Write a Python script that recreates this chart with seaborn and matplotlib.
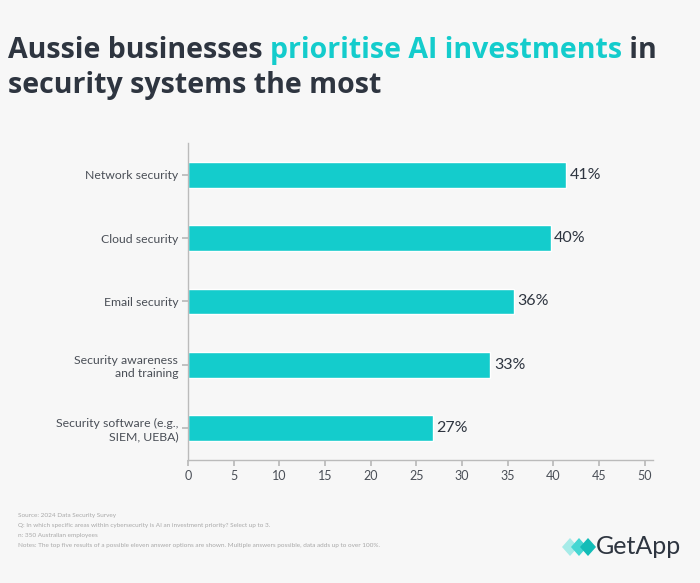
import matplotlib
matplotlib.use("Agg")
import matplotlib.pyplot as plt
import seaborn as sns
import pandas as pd
from matplotlib.patches import Polygon

categories = ["Network security", "Cloud security", "Email security",
              "Security awareness\nand training", "Security software (e.g.,\nSIEM, UEBA)"]
values = [41.4, 39.7, 35.7, 33.1, 26.8]
labels = ["41%", "40%", "36%", "33%", "27%"]
xticks = [0, 5, 10, 15, 20, 25, 30, 35, 40, 45, 50]

BG = "#f7f7f7"
TEAL = "#14cccc"
DARK = "#2e3540"

sns.set_theme(style="white")
plt.rcParams['font.family'] = ['Lato', 'DejaVu Sans']

fig = plt.figure(figsize=(7, 5.83), dpi=100, facecolor=BG)
ax = fig.add_axes([188/700, (583-460)/583, (653-188)/700, (460-143)/583])
ax.set_facecolor(BG)

df = pd.DataFrame({"cat": categories, "val": values})
sns.barplot(data=df, x="val", y="cat", color=TEAL, width=0.41, ax=ax, saturation=1)

for i, (v, l) in enumerate(zip(values, labels)):
    ax.annotate(l, (v, i), xytext=(2.5, 0), textcoords="offset points",
                va="center", ha="left", fontsize=11.5, color=DARK)

ax.set_xlim(0, 50.9)
ax.set_ylim(len(categories) - 0.5, -0.5)
ax.set_xticks(xticks)
ax.set_xlabel("")
ax.set_ylabel("")
for s in ["top", "right"]:
    ax.spines[s].set_visible(False)
for s in ["left", "bottom"]:
    ax.spines[s].set_color("#bbbbbb")
    ax.spines[s].set_linewidth(1)
ax.tick_params(axis="y", length=4, color="#bbbbbb", labelsize=8.8, labelcolor="#4a4f57", pad=3)
ax.tick_params(axis="x", length=4, color="#bbbbbb", labelsize=9, labelcolor="#4a4f57", pad=3)
ax.xaxis.set_ticks_position("bottom")
ax.yaxis.set_ticks_position("left")

# Title with coloured middle part
fig.canvas.draw()
renderer = fig.canvas.get_renderer()
TFONT = ['Open Sans', 'DejaVu Sans']
parts = [("Aussie businesses ", DARK), ("prioritise AI investments", TEAL), (" in", DARK)]
x = 8 / 700
y1 = 1 - 58 / 583
for txt, col in parts:
    t = fig.text(x, y1, txt, fontsize=20.5, fontweight="bold", color=col, ha="left",
                 va="baseline", family=TFONT)
    bb = t.get_window_extent(renderer=renderer)
    x += bb.width / 700
fig.text(8/700, 1 - 93/583, "security systems the most", fontsize=20.5, fontweight="bold",
         color=DARK, ha="left", va="baseline", family=TFONT)

# Footer notes
notes = ["Source: 2024 Data Security Survey",
         "Q: In which specific areas within cybersecurity is AI an investment priority? Select up to 3.",
         "n: 350 Australian employees",
         "Notes: The top five results of a possible eleven answer options are shown. Multiple answers possible, data adds up to over 100%."]
for k, n in enumerate(notes):
    fig.text(18/700, 1 - (515 + 10*k)/583, n, fontsize=4.6, color="#a8a8a8", ha="left", va="center")

# Logo
fig.text(596/700, 1 - 547/583, "GetApp", fontsize=18, color="#2e3540", ha="left", va="center")
def px(xx, yy):
    return (xx/700, 1 - yy/583)
for dx, c in [(0, "#a6ebe8"), (9, "#45d6d2"), (18, "#12bcb7")]:
    pts = [px(562+dx, 547), px(570+dx, 538), px(578+dx, 547), px(570+dx, 556)]
    fig.patches.append(Polygon(pts, closed=True, transform=fig.transFigure,
                               facecolor=c, edgecolor="none"))

fig.savefig("out.png", dpi=100, facecolor=BG)
